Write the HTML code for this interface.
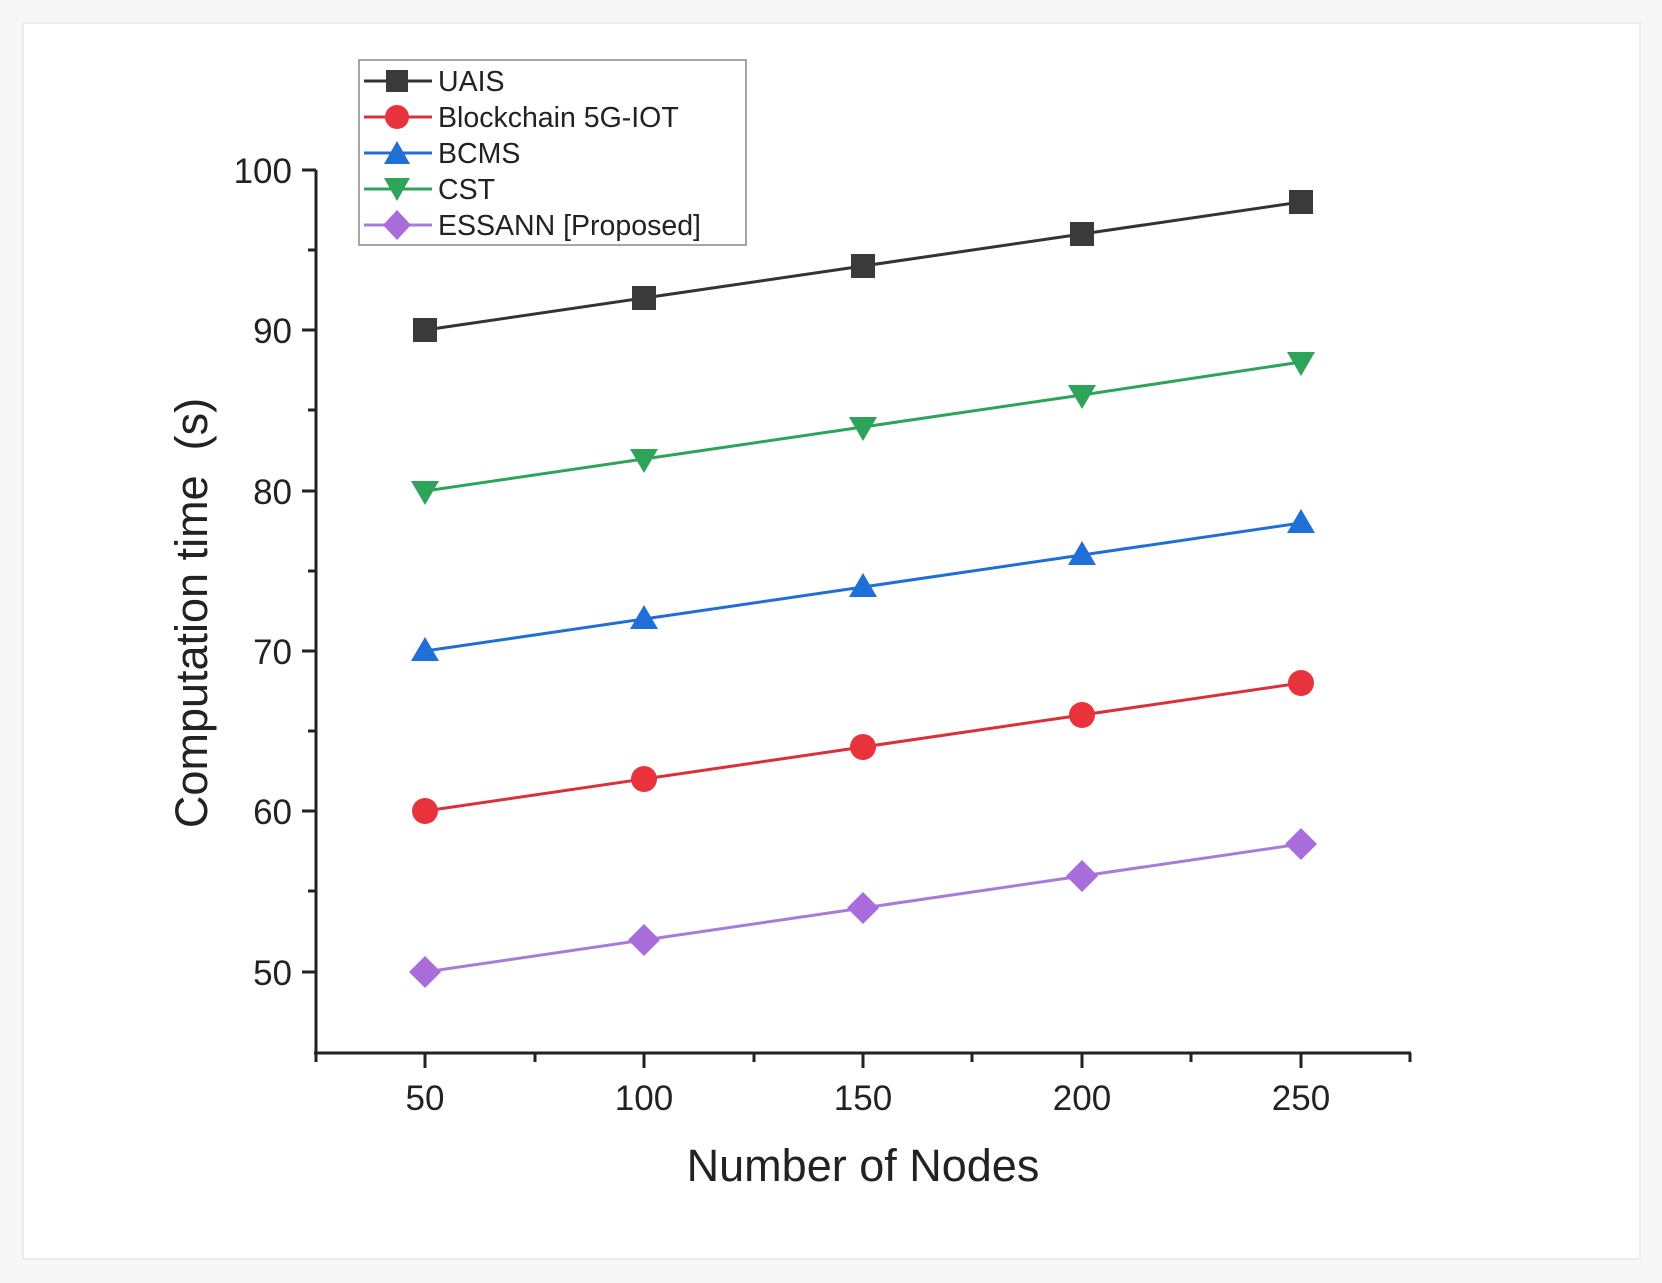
<!DOCTYPE html>
<html><head><meta charset="utf-8"><style>
html,body{margin:0;padding:0;background:#f7f7f7;}
svg{display:block;font-family:"Liberation Sans",Arial,sans-serif;}
</style></head><body>
<svg width="1662" height="1283" viewBox="0 0 1662 1283" xmlns="http://www.w3.org/2000/svg">
<rect x="0" y="0" width="1662" height="1283" fill="#f7f7f7"/>
<rect x="23" y="23" width="1617" height="1236" fill="#ffffff" stroke="#ececec" stroke-width="2"/>
<g stroke="#222" stroke-width="3" fill="none">
<line x1="316" y1="170" x2="316" y2="1054"/>
<line x1="314" y1="1053" x2="1411" y2="1053"/>
<line x1="302" y1="170" x2="316" y2="170"/>
<line x1="308" y1="250" x2="316" y2="250"/>
<line x1="302" y1="330" x2="316" y2="330"/>
<line x1="308" y1="410" x2="316" y2="410"/>
<line x1="302" y1="491" x2="316" y2="491"/>
<line x1="308" y1="571" x2="316" y2="571"/>
<line x1="302" y1="651" x2="316" y2="651"/>
<line x1="308" y1="731" x2="316" y2="731"/>
<line x1="302" y1="811" x2="316" y2="811"/>
<line x1="308" y1="891" x2="316" y2="891"/>
<line x1="302" y1="972" x2="316" y2="972"/>
<line x1="316" y1="1053" x2="316" y2="1062"/>
<line x1="425" y1="1053" x2="425" y2="1068"/>
<line x1="535" y1="1053" x2="535" y2="1062"/>
<line x1="644" y1="1053" x2="644" y2="1068"/>
<line x1="754" y1="1053" x2="754" y2="1062"/>
<line x1="863" y1="1053" x2="863" y2="1068"/>
<line x1="972" y1="1053" x2="972" y2="1062"/>
<line x1="1082" y1="1053" x2="1082" y2="1068"/>
<line x1="1191" y1="1053" x2="1191" y2="1062"/>
<line x1="1301" y1="1053" x2="1301" y2="1068"/>
<line x1="1410" y1="1053" x2="1410" y2="1062"/>
</g>
<g font-size="35" fill="#222" text-anchor="end">
<text x="292" y="183">100</text>
<text x="292" y="343">90</text>
<text x="292" y="504">80</text>
<text x="292" y="664">70</text>
<text x="292" y="824">60</text>
<text x="292" y="985">50</text>
</g>
<g font-size="35" fill="#222" text-anchor="middle">
<text x="425" y="1110">50</text>
<text x="644" y="1110">100</text>
<text x="863" y="1110">150</text>
<text x="1082" y="1110">200</text>
<text x="1301" y="1110">250</text>
</g>
<text x="863" y="1181" font-size="45" fill="#222" text-anchor="middle">Number of Nodes</text>
<text transform="translate(207,613) rotate(-90)" font-size="45" fill="#222" text-anchor="middle" xml:space="preserve">Computation time  (s)</text>
<g stroke-width="3" fill="none">
<polyline stroke="#333" points="425,330 644,298 863,266 1082,234 1301,202"/>
<polyline stroke="#2ea45a" points="425,491 644,459 863,427 1082,395 1301,362"/>
<polyline stroke="#1f6fd6" points="425,651 644,619 863,587 1082,555 1301,523"/>
<polyline stroke="#d9303a" points="425,811 644,779 863,747 1082,715 1301,683"/>
<polyline stroke="#a87cd6" points="425,972 644,940 863,908 1082,876 1301,844"/>
</g>
<g fill="#3a3a3a">
<rect x="413" y="318" width="24" height="24"/><rect x="632" y="286" width="24" height="24"/><rect x="851" y="254" width="24" height="24"/><rect x="1070" y="222" width="24" height="24"/><rect x="1289" y="190" width="24" height="24"/>
</g>
<g fill="#2ea45a">
<polygon points="411,481 439,481 425,505"/><polygon points="630,449 658,449 644,473"/><polygon points="849,417 877,417 863,441"/><polygon points="1068,385 1096,385 1082,409"/><polygon points="1287,352 1315,352 1301,376"/>
</g>
<g fill="#1f6fd6">
<polygon points="411,661 439,661 425,637"/><polygon points="630,629 658,629 644,605"/><polygon points="849,597 877,597 863,573"/><polygon points="1068,565 1096,565 1082,541"/><polygon points="1287,533 1315,533 1301,509"/>
</g>
<g fill="#e8323c">
<circle cx="425" cy="811" r="13"/><circle cx="644" cy="779" r="13"/><circle cx="863" cy="747" r="13"/><circle cx="1082" cy="715" r="13"/><circle cx="1301" cy="683" r="13"/>
</g>
<g fill="#a86ddb">
<polygon points="425,956 441,972 425,988 409,972"/><polygon points="644,924 660,940 644,956 628,940"/><polygon points="863,892 879,908 863,924 847,908"/><polygon points="1082,860 1098,876 1082,892 1066,876"/><polygon points="1301,828 1317,844 1301,860 1285,844"/>
</g>
<rect x="359" y="60" width="387" height="185" fill="#fff" stroke="#888" stroke-width="1.5"/>
<g stroke-width="3">
<line x1="364" y1="81" x2="432" y2="81" stroke="#333"/>
<line x1="364" y1="117" x2="432" y2="117" stroke="#d9303a"/>
<line x1="364" y1="153" x2="432" y2="153" stroke="#1f6fd6"/>
<line x1="364" y1="189" x2="432" y2="189" stroke="#2ea45a"/>
<line x1="364" y1="225" x2="432" y2="225" stroke="#a87cd6"/>
</g>
<rect x="386" y="70" width="22" height="22" fill="#3a3a3a"/>
<circle cx="397" cy="117" r="12" fill="#e8323c"/>
<polygon points="384,164 410,164 397,141" fill="#1f6fd6"/>
<polygon points="384,178 410,178 397,201" fill="#2ea45a"/>
<polygon points="397,210 411,225 397,240 383,225" fill="#a86ddb"/>
<g font-size="28.5" fill="#222">
<text x="438" y="91">UAIS</text>
<text x="438" y="127">Blockchain 5G-IOT</text>
<text x="438" y="163">BCMS</text>
<text x="438" y="199">CST</text>
<text x="438" y="235">ESSANN [Proposed]</text>
</g>
</svg>
</body></html>
